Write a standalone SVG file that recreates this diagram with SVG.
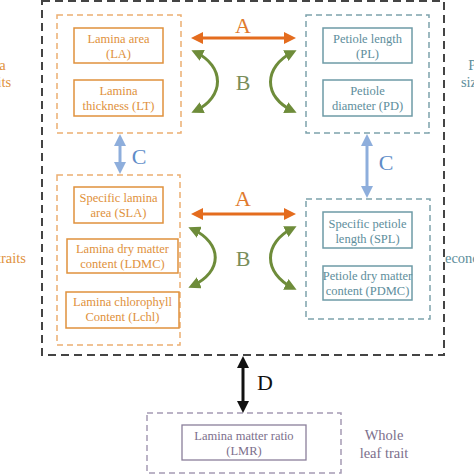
<svg xmlns="http://www.w3.org/2000/svg" width="474" height="474" viewBox="0 0 474 474" font-family="'Liberation Serif','Times New Roman',serif">
<style>
text{font-family:"Liberation Serif","Times New Roman",serif}
.nt{font-size:12.5px;text-anchor:middle}
.or{fill:#E0913C}
.bl{fill:#5E8E9C}
.gr{fill:#7C6F8C}
.lab{font-size:22px;text-anchor:middle}
.side{font-size:14.5px}
.onode{fill:#fff;stroke:#E0913C;stroke-width:1.5}
.bnode{fill:#fff;stroke:#6E9BA6;stroke-width:1.5}
.gnode{fill:#fff;stroke:#8A7F9A;stroke-width:1.3}
.ogrp{fill:none;stroke:#EBAE72;stroke-width:1.5;stroke-dasharray:6 4}
.bgrp{fill:none;stroke:#7DA2AC;stroke-width:1.5;stroke-dasharray:6 4}
.ggrp{fill:none;stroke:#A59BB4;stroke-width:1.5;stroke-dasharray:6 4}
.outer{fill:none;stroke:#444;stroke-width:2;stroke-dasharray:8 5}
.ca{fill:none;stroke:#E46C1E;stroke-width:3}
.cb{fill:none;stroke:#6E8C3A;stroke-width:3}
.cc{fill:none;stroke:#8EAEDC;stroke-width:3}
.cd{fill:none;stroke:#111;stroke-width:3}
</style>
<defs>
<marker id="mA" markerUnits="userSpaceOnUse" viewBox="0 0 12 12" refX="8" refY="6" markerWidth="12" markerHeight="12" orient="auto-start-reverse"><path d="M0,0 L12,6 L0,12 z" fill="#E46C1E"/></marker>
<marker id="mB" markerUnits="userSpaceOnUse" viewBox="0 0 12 12" refX="8" refY="6" markerWidth="12" markerHeight="12" orient="auto-start-reverse"><path d="M0,0 L12,6 L0,12 z" fill="#6E8C3A"/></marker>
<marker id="mC" markerUnits="userSpaceOnUse" viewBox="0 0 12 12" refX="8" refY="6" markerWidth="12" markerHeight="12" orient="auto-start-reverse"><path d="M0,0 L12,6 L0,12 z" fill="#8EAEDC"/></marker>
<marker id="mD" markerUnits="userSpaceOnUse" viewBox="0 0 12 12" refX="8" refY="6" markerWidth="12" markerHeight="12" orient="auto-start-reverse"><path d="M0,0 L12,6 L0,12 z" fill="#111"/></marker>
</defs>
<rect width="474" height="474" fill="#fff"/>

<rect class="outer" x="42" y="1" width="402" height="354"/>
<rect class="ogrp" x="57" y="15" width="124" height="118"/>
<rect class="bgrp" x="306" y="15" width="123" height="118"/>
<rect class="ogrp" x="57" y="175" width="123" height="170"/>
<rect class="bgrp" x="306" y="199" width="124" height="120"/>
<rect class="ggrp" x="147" y="413" width="194" height="60"/>

<text class="side or" x="-16.5" y="70" text-anchor="middle">Lamina</text>
<text class="side or" x="-16.5" y="87" text-anchor="middle">size traits</text>
<text class="side or" x="26" y="263" text-anchor="end">economic traits</text>
<text class="side bl" x="488.5" y="70" text-anchor="middle">Petiole</text>
<text class="side bl" x="488.5" y="87" text-anchor="middle">size traits</text>
<text class="side bl" x="445" y="263">economic traits</text>
<text class="side gr" x="384" y="440" text-anchor="middle">Whole</text>
<text class="side gr" x="384" y="458" text-anchor="middle">leaf trait</text>

<g id="LA"><rect class="onode" x="74" y="28" width="89" height="35"/><text class="nt or" x="118.5" y="43">Lamina area</text><text class="nt or" x="118.5" y="58">(LA)</text></g>
<g id="LT"><rect class="onode" x="74" y="80" width="89" height="36"/><text class="nt or" x="118.5" y="95">Lamina</text><text class="nt or" x="118.5" y="110">thickness (LT)</text></g>
<g id="PL"><rect class="bnode" x="323" y="28" width="89" height="35"/><text class="nt bl" x="367.5" y="43">Petiole length</text><text class="nt bl" x="367.5" y="58">(PL)</text></g>
<g id="PD"><rect class="bnode" x="323" y="80" width="89" height="36"/><text class="nt bl" x="367.5" y="95">Petiole</text><text class="nt bl" x="367.5" y="110">diameter (PD)</text></g>
<g id="SLA"><rect class="onode" x="74" y="187" width="89" height="36"/><text class="nt or" x="118.5" y="202">Specific lamina</text><text class="nt or" x="118.5" y="217">area (SLA)</text></g>
<g id="LDMC"><rect class="onode" x="67" y="239" width="111" height="34"/><text class="nt or" x="122.5" y="253">Lamina dry matter</text><text class="nt or" x="122.5" y="268">content (LDMC)</text></g>
<g id="Lchl"><rect class="onode" x="66" y="292" width="113" height="36"/><text class="nt or" x="122.5" y="306">Lamina chlorophyll</text><text class="nt or" x="122.5" y="321">Content (Lchl)</text></g>
<g id="SPL"><rect class="bnode" x="323" y="212" width="89" height="36"/><text class="nt bl" x="367.5" y="228">Specific petiole</text><text class="nt bl" x="367.5" y="243">length (SPL)</text></g>
<g id="PDMC"><rect class="bnode" x="323" y="266" width="89" height="34"/><text class="nt bl" x="367.5" y="280">Petiole dry matter</text><text class="nt bl" x="367.5" y="295">content (PDMC)</text></g>
<g id="LMR"><rect class="gnode" x="182" y="425" width="124" height="35"/><text class="nt gr" x="244" y="440">Lamina matter ratio</text><text class="nt gr" x="244" y="455">(LMR)</text></g>

<g id="connectors">
<line class="ca" x1="195" y1="38" x2="292" y2="38" marker-start="url(#mA)" marker-end="url(#mA)"/>
<path class="cb" d="M195,52 C225,66 225,97 195,111" marker-start="url(#mB)" marker-end="url(#mB)"/>
<path class="cb" d="M293,52 C263,67 263,97 293,111" marker-start="url(#mB)" marker-end="url(#mB)"/>
<line class="ca" x1="195" y1="214" x2="292" y2="214" marker-start="url(#mA)" marker-end="url(#mA)"/>
<path class="cb" d="M192,229 C223,243 223,272 192,286" marker-start="url(#mB)" marker-end="url(#mB)"/>
<path class="cb" d="M293,228 C263,243 263,273 293,288" marker-start="url(#mB)" marker-end="url(#mB)"/>
<line class="cc" x1="120" y1="138" x2="120" y2="170" marker-start="url(#mC)" marker-end="url(#mC)"/>
<line class="cc" x1="367" y1="138" x2="367" y2="194" marker-start="url(#mC)" marker-end="url(#mC)"/>
<line class="cd" x1="243" y1="360" x2="243" y2="409" marker-start="url(#mD)" marker-end="url(#mD)"/>
<text class="lab" x="243" y="33" fill="#E07A2E">A</text>
<text class="lab" x="243" y="90" fill="#7A8E5A">B</text>
<text class="lab" x="243" y="206" fill="#E07A2E">A</text>
<text class="lab" x="243" y="266" fill="#7A8E5A">B</text>
<text class="lab" x="139" y="164" fill="#5E8CC8">C</text>
<text class="lab" x="386" y="170" fill="#5E8CC8">C</text>
<text class="lab" x="265" y="390" fill="#111">D</text>
</g>
</svg>
